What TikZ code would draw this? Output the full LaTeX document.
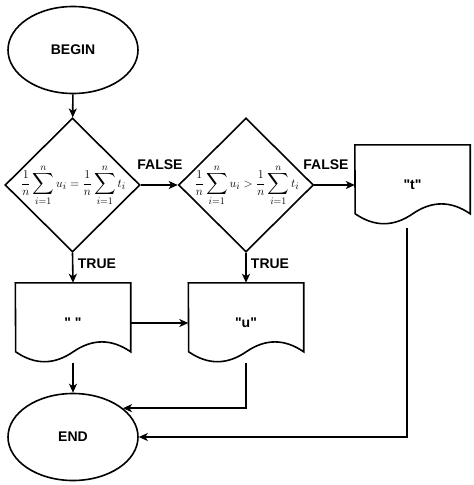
\documentclass[tikz,border=0pt]{standalone}
\usepackage{fontspec}
\setmainfont{Liberation Sans}[Ligatures=TeXOff]
\usetikzlibrary{shapes.geometric,arrows.meta}
\DeclareMathSizes{13}{13}{10}{8}
\newcommand\bigsum{\mathop{\vcenter{\hbox{\scalebox{1.5}{$\displaystyle\sum$}}}}\limits}
\newcommand\docoutline[1]{%
  \draw[line] (#1.north west) -- (#1.north east) -- ++(0,69)
    .. controls +(-19.17,-13.2) and +(19.17,-13.2) .. ++(-57.5,0)
    .. controls +(-19.17,13.2) and +(19.17,13.2) .. ++(-57.5,0) -- cycle;}
\begin{document}
\begin{tikzpicture}[x=1pt,y=-1pt,
  line/.style={line width=1.6pt,line join=miter},
  arr/.style={line,-{Stealth[length=9pt,width=8pt,inset=2.5pt]}},
  term/.style={ellipse,draw,line width=1.6pt,minimum width=130pt,minimum height=87pt,inner sep=0pt,font=\fontsize{14}{16}\selectfont\bfseries},
  decide/.style={diamond,draw,line width=1.6pt,minimum width=135pt,minimum height=134pt,inner sep=0pt},
  docbox/.style={rectangle,minimum width=115pt,minimum height=80pt,inner sep=0pt,font=\fontsize{14}{16}\selectfont\bfseries},
  lbl/.style={font=\fontsize{14}{16}\selectfont\bfseries,inner sep=0pt},
  formula/.style={inner sep=0pt,font=\fontsize{13}{15}\selectfont}]
\useasboundingbox (0,0) rectangle (474,485);
\node[term] (begin) at (73,50) {BEGIN};
\node[decide] (d1) at (72.5,185) {};
\node[formula] (f1) at ([xshift=1pt]d1.center) {$\displaystyle\frac{1}{n}\bigsum_{i=1}^{n}u_i=\frac{1}{n}\bigsum_{i=1}^{n}t_i$};
\node[decide] (d2) at (246,185) {};
\node[formula] (f2) at ([xshift=1pt]d2.center) {$\displaystyle\frac{1}{n}\bigsum_{i=1}^{n}u_i>\frac{1}{n}\bigsum_{i=1}^{n}t_i$};
\node[docbox] (t) at (412.5,185) {"t"};
\node[docbox] (e) at (73,323) {" "};
\node[docbox] (u) at (246,323) {"u"};
\node[term] (end) at (73,437) {END};
\docoutline{t}
\docoutline{e}
\docoutline{u}
\draw[arr] (begin) -- (d1);
\draw[arr] (d1.east) -- (d2.west);
\draw[arr] (d2.east) -- (t.west);
\draw[arr] (d1.south) -- (e.north);
\draw[arr] (d2.south) -- (u.north);
\draw[arr] (e.east) -- (u.west);
\draw[arr] (e.south) -- (end.north);
\coordinate (ub) at (u.south |- end.30);
\draw[arr] (u.south) -- (ub) -- (end.30);
\coordinate (ts) at ([xshift=-5.5pt,yshift=-3pt]t.south);
\coordinate (tb) at (ts |- end.east);
\draw[arr] (ts) -- (tb) -- (end.east);
\node[lbl] (fa1) at (160,165) {FALSE};
\node[lbl] (fa2) at (326,165) {FALSE};
\node[lbl] (tr1) at (97,264) {TRUE};
\node[lbl] (tr2) at (270,264) {TRUE};
\end{tikzpicture}
\end{document}
